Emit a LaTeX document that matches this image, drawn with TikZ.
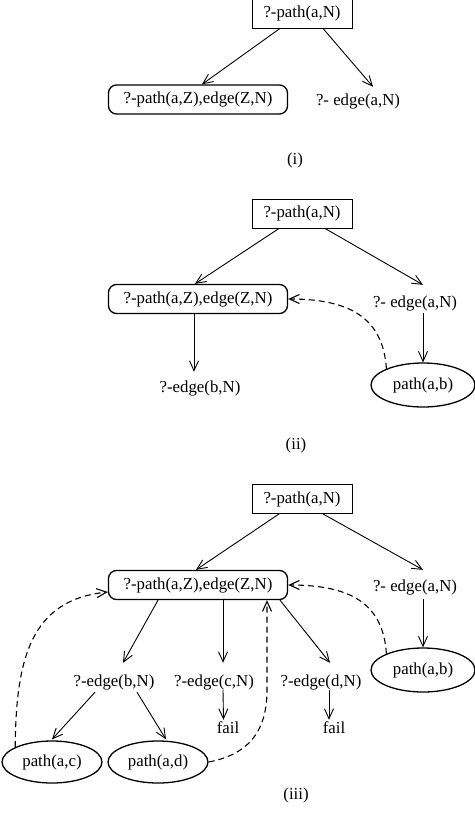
\documentclass[tikz,border=0pt]{standalone}
\usepackage{fontspec}
\setmainfont{Liberation Serif}
\usetikzlibrary{arrows.meta,shapes.geometric}
\begin{document}
\begin{tikzpicture}[x=1pt,y=-1pt,
  every node/.style={font=\fontsize{16.8}{20}\selectfont},
  sq/.style={draw,line width=0.9pt,minimum width=100pt,minimum height=29pt,inner sep=0pt},
  rb/.style={draw,line width=1.3pt,rounded corners=8pt,minimum width=179pt,minimum height=29pt,inner sep=0pt},
  tx/.style={inner sep=0pt,text height=12pt,text depth=4pt},
  el/.style={draw,ellipse,line width=1.3pt,inner sep=0pt,minimum width=100pt,minimum height=42pt},
  arr/.style={line width=0.9pt,-{Straight Barb[length=10pt,width=9pt]}},
  dsh/.style={line width=1.1pt,dash pattern=on 6pt off 4pt,-{Straight Barb[length=10pt,width=9pt]}}]
\useasboundingbox (0,0) rectangle (474,824);

% ---------- (i)
\node[sq] (t1) at (302,13.5) {?-path(a,N)};
\node[rb] (r1) at (198,99.5) {?-path(a,Z),edge(Z,N)};
\node[tx] (e1) at (358,102) {?- edge(a,N)};
\node[tx] (l1) at (295,160) {(i)};
\draw[arr] ([xshift=-22pt]t1.south) -- ([xshift=4pt]r1.north);
\draw[arr] ([xshift=21pt]t1.south) -- ([xshift=15pt,yshift=7pt]e1.north);

% ---------- (ii)
\node[sq] (t2) at (302,213.5) {?-path(a,N)};
\node[rb] (r2) at (198,299) {?-path(a,Z),edge(Z,N)};
\node[tx] (e2) at (415,303) {?- edge(a,N)};
\node[tx] (b2) at (200,388) {?-edge(b,N)};
\node[el,minimum width=104pt,minimum height=44pt] (p2) at (423,385) {path(a,b)};
\node[tx] (l2) at (296,445) {(ii)};
\draw[arr] ([xshift=-23pt]t2.south) -- ([xshift=-3pt]r2.north);
\draw[arr] ([xshift=23pt]t2.south) -- ([xshift=8pt,yshift=10pt]e2.north);
\draw[arr] ([xshift=-4pt]r2.south) -- ([xshift=-6pt,yshift=8pt]b2.north);
\draw[arr] ([xshift=8pt,yshift=-2pt]e2.south) -- (p2.north);
\draw[dsh] (p2.156) .. controls (383,318) and (350,299) .. (r2.east);

% ---------- (iii)
\node[sq] (t3) at (302,499) {?-path(a,N)};
\node[rb] (r3) at (198,585) {?-path(a,Z),edge(Z,N)};
\node[tx] (e3) at (415,587) {?- edge(a,N)};
\node[el,minimum width=104pt,minimum height=44pt] (p3) at (423,670) {path(a,b)};
\node[tx] (b3) at (114,682) {?-edge(b,N)};
\node[tx] (c3) at (214,682) {?-edge(c,N)};
\node[tx] (d3) at (321,682) {?-edge(d,N)};
\node[tx] (f1) at (228,729) {fail};
\node[tx] (f2) at (334,729) {fail};
\node[el] (pc) at (52,762) {path(a,c)};
\node[el] (pd) at (158,762) {path(a,d)};
\node[tx] (l3) at (296,795) {(iii)};
\draw[arr] ([xshift=-23pt]t3.south) -- ([xshift=-2pt]r3.north);
\draw[arr] ([xshift=21pt]t3.south) -- ([xshift=8pt,yshift=9pt]e3.north);
\draw[arr] ([xshift=8pt,yshift=-4pt]e3.south) -- (p3.north);
\draw[arr] ([xshift=-40pt]r3.south) -- ([xshift=9pt,yshift=11pt]b3.north);
\draw[arr] ([xshift=25pt]r3.south) -- ([xshift=9pt,yshift=11pt]c3.north);
\draw[arr] ([xshift=82pt]r3.south) -- ([xshift=9pt,yshift=11pt]d3.north);
\draw[arr] ([xshift=9pt]c3.south) -- ([xshift=-4.5pt,yshift=1pt]f1.north);
\draw[arr] ([xshift=8pt]d3.south) -- ([xshift=-5pt,yshift=1pt]f2.north);
\draw[arr] ([xshift=-19pt,yshift=-2pt]b3.south) -- ([yshift=1pt]pc.north);
\draw[arr] ([xshift=23pt,yshift=-2pt]b3.south) -- ([xshift=8pt,yshift=1pt]pd.north);
\draw[dsh] (pc.158) .. controls (16,660) and (30,600) .. ([yshift=-7pt]r3.west);
\draw[dsh] (pd.east) .. controls (245,755) and (267,735) .. (267,690) -- ([xshift=69pt]r3.south);
\draw[dsh] (p3.156) .. controls (383,603) and (350,585) .. (r3.east);
\end{tikzpicture}
\end{document}
